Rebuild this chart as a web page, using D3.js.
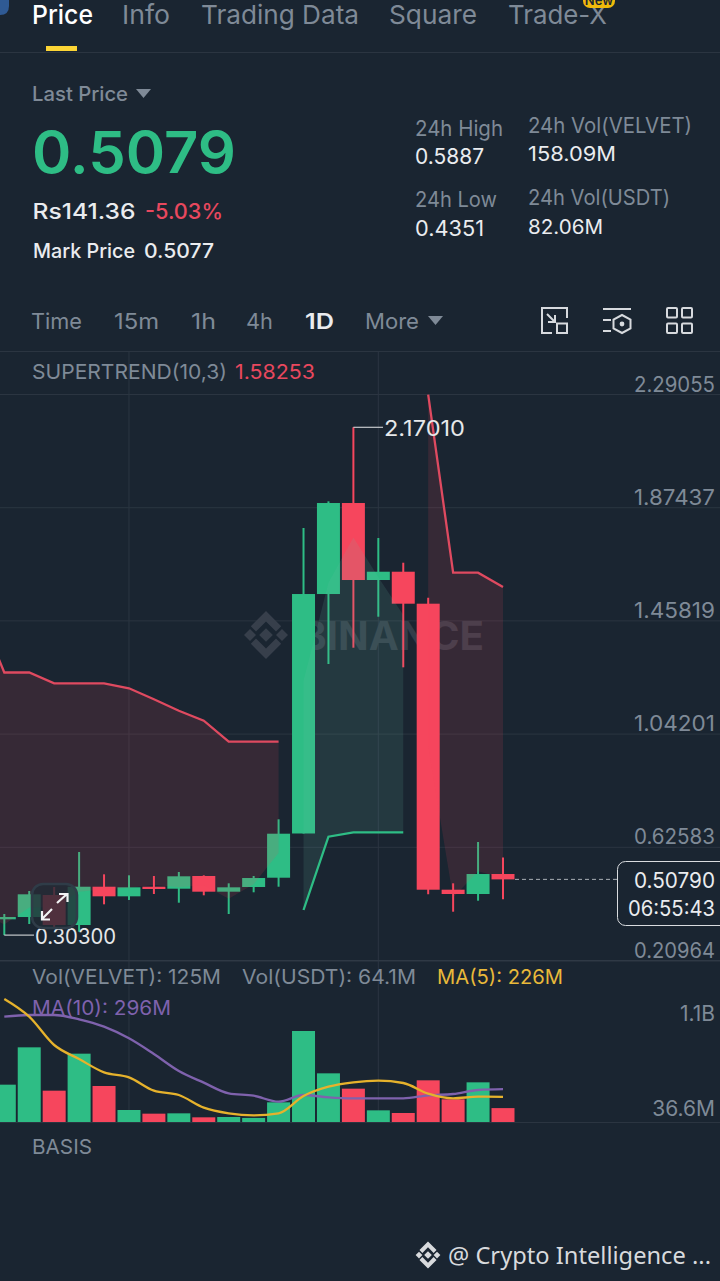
<!DOCTYPE html>
<html>
<head>
<meta charset="utf-8">
<script src="https://cdn.jsdelivr.net/npm/d3@7"></script>
<style>
html, body { margin: 0; padding: 0; background: #1a2531; overflow: hidden; }
svg { display: block; }
text { font-family: Inter, "Noto Sans", sans-serif; }
</style>
</head>
<body>
<script>
var opens  = [0.3611, 0.3695, 0.4504, 0.3401, 0.4809, 0.4456, 0.4809, 0.4736, 0.5203, 0.4626, 0.4799, 0.5140, 0.6766, 1.5570, 1.8916, 1.6085, 1.6390, 1.5214, 0.4699, 0.4541, 0.5276];
var closes = [0.3695, 0.4530, 0.3401, 0.4809, 0.4456, 0.4787, 0.4725, 0.5192, 0.4626, 0.4787, 0.5129, 0.6758, 1.5570, 1.8916, 1.6085, 1.6390, 1.5214, 0.4699, 0.4541, 0.5276, 0.5079];
var highs  = [0.3806, 0.4652, 0.4799, 0.6085, 0.5265, 0.5229, 0.5203, 0.5350, 0.5229, 0.4934, 0.5203, 0.7287, 1.7997, 1.8978, 2.1701, 1.7629, 1.6721, 1.5434, 0.4934, 0.6453, 0.5887];
var lows   = [0.3030, 0.3438, 0.3328, 0.3155, 0.4162, 0.4321, 0.4541, 0.4221, 0.4493, 0.3806, 0.4604, 0.4809, 0.6766, 1.2997, 1.3596, 1.4736, 1.2875, 0.4530, 0.3890, 0.4295, 0.4351];
var volumes = [336, 672, 282, 615, 324, 108, 75, 78, 42, 45, 36.6, 177, 819, 438, 300, 105, 81, 375, 204, 357, 125];
var ma5  = [1107, 948, 693, 567, 447, 402, 282, 243, 129, 78, 60, 78, 234, 318, 357, 372, 351, 255, 213, 228, 226];
var ma10 = [948, 963, 963, 924, 858, 753, 612, 459, 354, 258, 237, 183, 243, 222, 213, 213, 213, 240, 252, 288, 296];

// supertrend runs, each with the candle index it starts on
var stFirstRed = [1.4909, 1.2684, 1.2684, 1.2287, 1.2287, 1.2287, 1.2104, 1.1699, 1.1280, 1.0912, 1.0141, 1.0141, 1.0141];
var stFirstRedStart = -1;
var stGreen = [0.3953, 0.6648, 0.6810, 0.6810, 0.6810];
var stGreenStart = 12;
var stLastRed = [2.2900, 1.6354, 1.6354, 1.58253];
var stLastRedStart = 17;
var offscreenMid = 0.3900; // hl2 of the candle left of the frame

var priceTicks = [2.29055, 1.87437, 1.45819, 1.04201, 0.62583, 0.20964];
var volTicks = [1100, 36.6];
var volTickLabels = ["1.1B", "36.6M"];
var timeTabs = ["Time", "15m", "1h", "4h", "1D", "More"];
var navTabs = ["Price", "Info", "Trading Data", "Square", "Trade-X"];

var width = 720, height = 1281;
var bg = "#1a2531", up = "#2ebd85", down = "#f6465d", gray = "#7f8a97", white = "#eaecef", line = "#2b3541";

var svg = d3.select("body").append("svg").attr("width", width).attr("height", height);
svg.append("rect").attr("width", width).attr("height", height).attr("fill", bg);

var x = d3.scaleLinear().domain([0, 20]).range([4.3, 503]);
var y = d3.scaleLinear().domain([0.20964, 2.29055]).range([960.5, 394.5]);
var yVol = d3.scaleLinear().domain([0, 1107]).range([1122, 999]);
var yVolLabel = d3.scaleLinear().domain([36.6, 1100]).range([1120, 1025]);
var candleW = 23;

function label(t, px, py, size, color, opts) {
    opts = opts || {};
    var el = svg.append("text").attr("x", px).attr("y", py).text(t)
        .attr("font-size", size).attr("fill", color)
        .attr("font-weight", opts.weight || 400)
        .attr("text-anchor", opts.anchor || "start");
    if (opts.len) el.attr("textLength", opts.len).attr("lengthAdjust", "spacingAndGlyphs");
    if (opts.family) el.style("font-family", opts.family);
    return el;
}

function triangle(cx, cy, w, h, color) {
    svg.append("path").attr("fill", color)
        .attr("d", "M" + (cx - w / 2) + "," + (cy - h / 2) + "h" + w + "l" + (-w / 2) + "," + h + "z");
}

// binance mark, size is half the height
function logo(g, cx, cy, s, color) {
    var k = s / 12;
    var paths = [
        "M0,-3.4L3.4,0L0,3.4L-3.4,0Z",
        "M-8,-3L-5,0L-8,3L-11,0Z",
        "M8,-3L11,0L8,3L5,0Z",
        "M0,-12L7.6,-4.4L5,-1.8L0,-6.8L-5,-1.8L-7.6,-4.4Z",
        "M0,12L7.6,4.4L5,1.8L0,6.8L-5,1.8L-7.6,4.4Z"
    ];
    g.append("g").attr("transform", "translate(" + cx + "," + cy + ") scale(" + k + ")")
        .selectAll("path").data(paths).enter().append("path")
        .attr("d", function (d) { return d; }).attr("fill", color);
}

// top bar
svg.append("path").attr("d", "M0,0H9V6Q9,15 0,15Z").attr("fill", "#2f5a94");
navTabs.forEach(function (t, i) {
    var xs = [32, 122, 201, 389, 508], ws = [61, 48, 158, 88, 99];
    label(t, xs[i], 24, 26, i == 0 ? "#ffffff" : gray, { len: ws[i], weight: i == 0 ? 500 : 400 });
});
svg.append("rect").attr("x", 583).attr("y", -8).attr("width", 32).attr("height", 16).attr("rx", 7).attr("fill", "#f0b90b");
label("New", 599, 5, 13, "#1a2531", { anchor: "middle", weight: 600 });
svg.append("rect").attr("x", 46).attr("y", 46).attr("width", 31).attr("height", 5).attr("fill", "#fcd535");
svg.append("rect").attr("x", 0).attr("y", 52).attr("width", width).attr("height", 1).attr("fill", line);

// ticker block
label("Last Price", 32, 101, 20, gray, { len: 96, weight: 500 });
triangle(143.5, 93.5, 15, 9, gray);
label("0.5079", 32, 172.5, 58, up, { len: 204, weight: 600 });
label("Rs141.36", 32.5, 219, 21.5, white, { len: 103, weight: 500 });
label("-5.03%", 145, 219, 21.5, "#e8485e", { len: 78, weight: 500 });
label("Mark Price", 33, 258, 20, white, { len: 102, weight: 500 });
label("0.5077", 144, 258, 20, white, { len: 70, weight: 500 });
label("24h High", 415, 136, 21, gray, { len: 88 });
label("0.5887", 415, 164, 21, white, { len: 69 });
label("24h Low", 415, 207, 21, gray, { len: 82 });
label("0.4351", 415, 236, 21, white, { len: 69 });
label("24h Vol(VELVET)", 528, 132.5, 21, gray, { len: 164 });
label("158.09M", 528, 161, 20, white, { len: 88 });
label("24h Vol(USDT)", 528, 205, 21, gray, { len: 142 });
label("82.06M", 528, 233.5, 20, white, { len: 75 });

// interval row
timeTabs.forEach(function (t, i) {
    var xs = [31, 114, 191, 246, 305, 365], ws = [51, 45, 25, 27, 29, 54];
    label(t, xs[i], 329, 22, i == 4 ? white : gray, { len: ws[i], weight: i == 4 ? 600 : 400 });
});
triangle(435.5, 320.5, 15, 9, gray);
svg.append("rect").attr("x", 0).attr("y", 351).attr("width", width).attr("height", 1).attr("fill", line);

var icons = svg.append("g").attr("fill", "none").attr("stroke", "#d7dade").attr("stroke-width", 2);
icons.append("path").attr("d", "M567,318V308H542V333H552M547,314L555,322M548,322H555V315");
icons.append("rect").attr("x", 557).attr("y", 323.5).attr("width", 10).attr("height", 9.5);
icons.append("path").attr("d", "M603,309H631M603,320H611M603,331H611M622,315L630.5,319.5V328.5L622,333L613.5,328.5V319.5Z");
icons.append("circle").attr("cx", 622).attr("cy", 324).attr("r", 2.4).attr("fill", "#d7dade").attr("stroke", "none");
[[667, 308], [682, 308], [667, 323.5], [682, 323.5]].forEach(function (p) {
    icons.append("rect").attr("x", p[0]).attr("y", p[1]).attr("width", 10).attr("height", 9.5).attr("rx", 1);
});

// grid
svg.append("g").selectAll("line").data(priceTicks).enter().append("line")
    .attr("x1", 0).attr("x2", width)
    .attr("y1", function (d) { return y(d); }).attr("y2", function (d) { return y(d); })
    .attr("stroke", line).attr("stroke-width", 1);
svg.append("g").selectAll("line").data([5, 15]).enter().append("line")
    .attr("x1", function (d) { return x(d); }).attr("x2", function (d) { return x(d); })
    .attr("y1", 352).attr("y2", 1122)
    .attr("stroke", line).attr("stroke-width", 1);
svg.append("rect").attr("x", 0).attr("y", 960).attr("width", width).attr("height", 1.5).attr("fill", "#2f3945");
svg.append("rect").attr("x", 0).attr("y", 1122).attr("width", width).attr("height", 1).attr("fill", line);

// watermark
logo(svg, 266, 635, 24, "#373f4b");
label("BINANCE", 300, 650, 39, "#343e4a", { len: 184, weight: 700 });

// candles
var idx = d3.range(opens.length);
var candles = svg.append("g");
candles.selectAll("line").data(idx).enter().append("line")
    .attr("x1", function (i) { return x(i); }).attr("x2", function (i) { return x(i); })
    .attr("y1", function (i) { return y(highs[i]); }).attr("y2", function (i) { return y(lows[i]); })
    .attr("stroke", function (i) { return closes[i] >= opens[i] ? up : down; }).attr("stroke-width", 2);
candles.selectAll("rect").data(idx).enter().append("rect")
    .attr("x", function (i) { return x(i) - candleW / 2; }).attr("width", candleW)
    .attr("y", function (i) { return y(Math.max(opens[i], closes[i])); })
    .attr("height", function (i) { return Math.abs(y(opens[i]) - y(closes[i])); })
    .attr("fill", function (i) { return closes[i] >= opens[i] ? up : down; });

// supertrend: fill goes from the line to each candle's hl2, over the candles
function hl2(i) { return i < 0 ? offscreenMid : (highs[i] + lows[i]) / 2; }
function trendRun(values, start, color, fill) {
    var pts = values.map(function (v, k) { return { i: start + k, v: v }; });
    svg.append("path").datum(pts).attr("fill", fill)
        .attr("d", d3.area()
            .x(function (d) { return x(d.i); })
            .y0(function (d) { return y(hl2(d.i)); })
            .y1(function (d) { return y(d.v); }));
    svg.append("path").datum(pts).attr("fill", "none").attr("stroke", color).attr("stroke-width", 2.3)
        .attr("d", d3.line()
            .x(function (d) { return x(d.i); })
            .y(function (d) { return y(d.v); }));
}
trendRun(stFirstRed, stFirstRedStart, "#df4a60", "rgba(246,70,93,0.13)");
trendRun(stGreen, stGreenStart, up, "rgba(110,190,170,0.13)");
trendRun(stLastRed, stLastRedStart, "#df4a60", "rgba(246,70,93,0.13)");

// high and low callouts
svg.append("path").attr("fill", "none").attr("stroke", "#e6e8ea").attr("stroke-width", 1)
    .attr("d", "M" + x(14) + "," + y(2.1701) + "H383");
label("2.17010", 384, 436, 21, "#e6e8ea", { len: 81 });
svg.append("path").attr("fill", "none").attr("stroke", "#e6e8ea").attr("stroke-width", 1)
    .attr("d", "M" + x(0) + "," + y(0.303) + "H34");
label("0.30300", 35, 943.5, 21, "#e6e8ea", { len: 81 });

// expand button
svg.append("rect").attr("x", 32).attr("y", 884).attr("width", 45).attr("height", 44).attr("rx", 11)
    .attr("fill", "rgba(32,42,52,0.78)").attr("stroke", "#2f3c48").attr("stroke-width", 2.5);
svg.append("path").attr("fill", "none").attr("stroke", "#f2f3f4").attr("stroke-width", 2.2)
    .attr("d", "M57,903L67,894M59,894H67.5V902M52,909L42,919M42,911V919.5H50");

// price axis
var priceAxis = d3.axisLeft(y).tickValues(priceTicks).tickSize(0).tickPadding(0).tickFormat(d3.format(".5f"));
var gAxis = svg.append("g").attr("transform", "translate(715,0)").call(priceAxis);
gAxis.select(".domain").remove();
gAxis.selectAll("text").attr("font-size", 21).attr("fill", gray).attr("dy", "-3.5")
    .style("font-family", 'Inter, sans-serif').attr("textLength", 81).attr("lengthAdjust", "spacingAndGlyphs");

// last price marker
svg.append("line").attr("x1", 515).attr("x2", 617).attr("y1", y(0.5079)).attr("y2", y(0.5079))
    .attr("stroke", "#aab0b6").attr("stroke-width", 1).attr("stroke-dasharray", "4 3");
svg.append("rect").attr("x", 617.5).attr("y", 861.5).attr("width", 112).attr("height", 64).attr("rx", 8)
    .attr("fill", bg).attr("stroke", "#d9dcdf").attr("stroke-width", 1);
label("0.50790", 715, 888, 21, white, { anchor: "end", len: 81 });
label("06:55:43", 715, 916, 21, white, { anchor: "end", len: 87 });

// indicator legends
label("SUPERTREND(10,3)", 32, 379, 20, gray, { len: 195 });
label("1.58253", 235, 379, 20, "#e8485e", { len: 80 });
label("Vol(VELVET): 125M", 32, 983.5, 20, gray, { len: 189 });
label("Vol(USDT): 64.1M", 242, 983.5, 20, gray, { len: 174 });
label("MA(5): 226M", 437, 983.5, 20, "#e9b93a", { len: 126 });

// volume
svg.append("g").selectAll("rect").data(idx).enter().append("rect")
    .attr("x", function (i) { return x(i) - candleW / 2; }).attr("width", candleW)
    .attr("y", function (i) { return yVol(volumes[i]); })
    .attr("height", function (i) { return yVol(0) - yVol(volumes[i]); })
    .attr("fill", function (i) { return closes[i] >= opens[i] ? up : down; });
var maLine = d3.line()
    .x(function (d, i) { return x(i); })
    .y(function (d) { return yVol(d); })
    .curve(d3.curveMonotoneX);
svg.append("path").datum(ma10).attr("d", maLine).attr("fill", "none").attr("stroke", "#7f62ad").attr("stroke-width", 2.3);
svg.append("path").datum(ma5).attr("d", maLine).attr("fill", "none").attr("stroke", "#e6b22c").attr("stroke-width", 2.3);
label("MA(10): 296M", 32, 1015, 20, "#7f62ad", { len: 139 });

svg.append("g").selectAll("text").data(volTicks).enter().append("text")
    .attr("x", 715).attr("text-anchor", "end")
    .attr("y", function (d) { return yVolLabel(d) - 4; })
    .attr("font-size", 21).attr("fill", gray)
    .text(function (d, i) { return volTickLabels[i]; });

label("BASIS", 32, 1154, 20, gray, { len: 60 });

// share watermark
logo(svg, 428, 1255, 13.5, "#d8dadd");
label("@ Crypto Intelligence ...", 448, 1264, 24, "#d8dadd", { family: '"Noto Sans", sans-serif', len: 263 });
</script>
</body>
</html>
